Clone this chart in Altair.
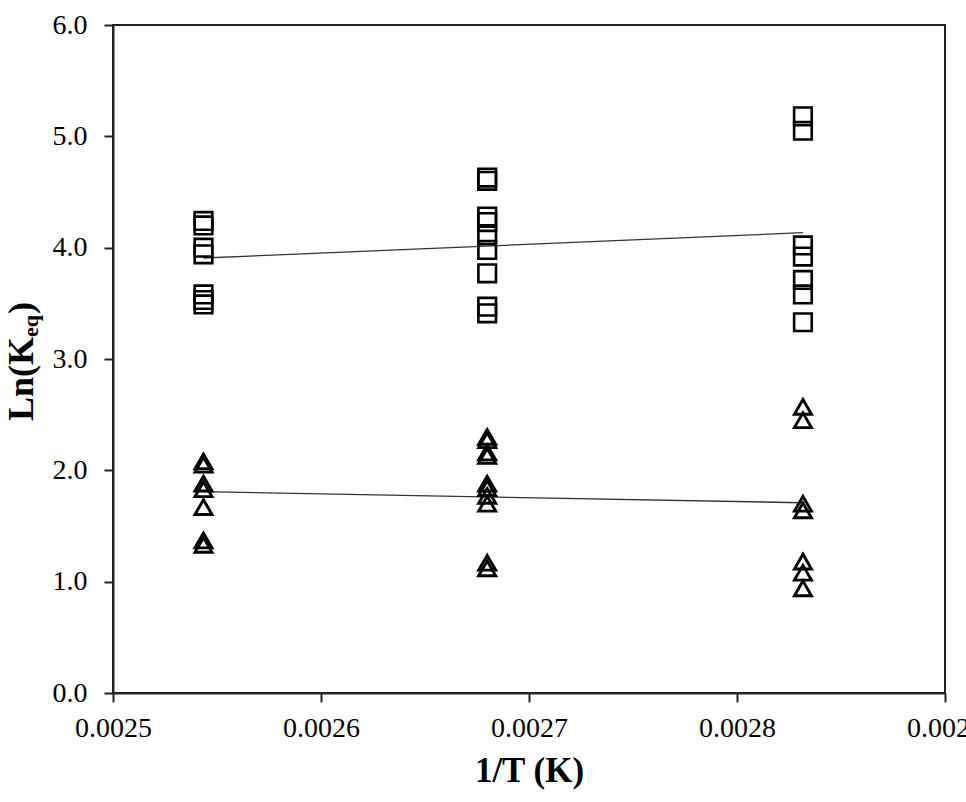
import altair as alt
import pandas as pd

# x positions (1/T)
x_vals = [0.0025435, 0.0026799, 0.0028317]

# Ln(Keq) values, squares series
sq_x1 = [4.24, 4.20, 4.00, 3.94, 3.58, 3.53, 3.49]
sq_x2 = [4.63, 4.60, 4.28, 4.23, 4.11, 3.98, 3.77, 3.47, 3.41]
sq_x3 = [5.18, 5.05, 4.02, 3.92, 3.71, 3.58, 3.33]

# triangles series
tri_x1 = [2.08, 2.05, 1.88, 1.83, 1.67, 1.37, 1.33]
tri_x2 = [2.30, 2.27, 2.16, 2.13, 1.88, 1.84, 1.77, 1.70, 1.17, 1.12]
tri_x3 = [2.57, 2.45, 1.70, 1.64, 1.18, 1.08, 0.94]

# trend lines (endpoints)
fit_x = [0.0025435, 0.0028317]
fit_sq = [3.907, 4.135]
fit_tri = [1.808, 1.709]

x_ticks = [0.0025, 0.0026, 0.0027, 0.0028, 0.0029]
y_ticks = [0.0, 1.0, 2.0, 3.0, 4.0, 5.0, 6.0]

rows = []
for xv, ys in zip(x_vals, [sq_x1, sq_x2, sq_x3]):
    for y in ys:
        rows.append({"x": xv, "y": y, "s": "sq"})
for xv, ys in zip(x_vals, [tri_x1, tri_x2, tri_x3]):
    for y in ys:
        rows.append({"x": xv, "y": y, "s": "tri"})
pts = pd.DataFrame(rows)

fit = pd.DataFrame(
    [{"x": a, "y": b, "s": "sq"} for a, b in zip(fit_x, fit_sq)]
    + [{"x": a, "y": b, "s": "tri"} for a, b in zip(fit_x, fit_tri)]
)

FONT = "Liberation Serif"

xscale = alt.Scale(domain=[0.0025, 0.0029], nice=False, zero=False)
yscale = alt.Scale(domain=[0, 6], nice=False)

xaxis = alt.Axis(
    values=x_ticks, format=".4f", title="1/T (K)", grid=False,
    labelFont=FONT, labelFontSize=28, labelColor="black", labelPadding=12,
    titleFont=FONT, titleFontSize=35, titleFontWeight="bold", titleColor="black",
    titlePadding=11, tickSize=9, tickWidth=2, tickColor="#222",
    domainColor="#222", domainWidth=2, labelFlush=False, labelOverlap=False,
)
yaxis = alt.Axis(
    values=y_ticks, format=".1f", title=None, grid=False,
    labelFont=FONT, labelFontSize=28, labelColor="black", labelPadding=17,
    tickSize=9, tickWidth=2, tickColor="#222",
    domainColor="#222", domainWidth=2,
)

points = alt.Chart(pts).mark_point(filled=False, opacity=1).encode(
    x=alt.X("x:Q", scale=xscale, axis=xaxis),
    y=alt.Y("y:Q", scale=yscale, axis=yaxis),
    shape=alt.Shape("s:N", scale=alt.Scale(domain=["sq", "tri"], range=["square", "triangle-up"]), legend=None),
    size=alt.Size("s:N", scale=alt.Scale(domain=["sq", "tri"], range=[310, 290]), legend=None),
    strokeWidth=alt.StrokeWidth("s:N", scale=alt.Scale(domain=["sq", "tri"], range=[2.6, 2.9]), legend=None),
    color=alt.value("black"),
)

lines = alt.Chart(fit).mark_line(strokeWidth=1.3, color="#333").encode(
    x=alt.X("x:Q", scale=xscale),
    y=alt.Y("y:Q", scale=yscale),
    detail="s:N",
)

one = alt.Data(values=[{"a": 1}])
t1 = alt.Chart(one).mark_text(
    text="Ln(K", angle=270, align="left", baseline="alphabetic",
    font=FONT, fontSize=36, fontWeight="bold", color="black",
).encode(x=alt.value(-80), y=alt.value(396))
t2 = alt.Chart(one).mark_text(
    text="eq", angle=270, align="left", baseline="alphabetic",
    font=FONT, fontSize=22, fontWeight="bold", color="black",
).encode(x=alt.value(-75), y=alt.value(312))
t3 = alt.Chart(one).mark_text(
    text=")", angle=270, align="left", baseline="alphabetic",
    font=FONT, fontSize=36, fontWeight="bold", color="black",
).encode(x=alt.value(-80), y=alt.value(289))

chart = alt.layer(lines, points, t1, t2, t3).properties(
    width=832, height=668,
    autosize=alt.AutoSizeParams(type="none"),
    padding={"left": 113, "top": 25, "right": 21, "bottom": 109},
    background="white",
).configure_view(stroke="#222", strokeWidth=2)

chart.save("out.html", embed_options={"renderer": "svg", "actions": False})
